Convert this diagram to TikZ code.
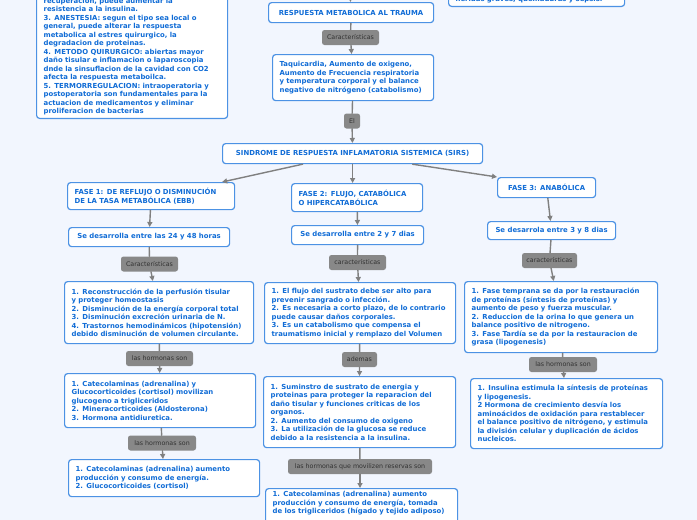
\documentclass[tikz,border=0pt]{standalone}
\usepackage{fontspec}
\setmainfont{DejaVu Sans}
\usetikzlibrary{arrows.meta}
\definecolor{bgblue}{RGB}{242,246,254}
\definecolor{boxline}{RGB}{76,146,228}
\definecolor{boxtext}{RGB}{16,108,214}
\definecolor{tagfill}{RGB}{136,136,136}
\definecolor{tagtext}{RGB}{50,50,50}
\definecolor{linkgray}{RGB}{128,128,128}
\begin{document}
\begin{tikzpicture}[x=1pt,y=-1pt,line join=round,line cap=round,
  card/.style={draw=boxline,fill=white,line width=1.2pt,rounded corners=3pt,text=boxtext,
    font=\fontsize{6.9}{8.5}\selectfont\bfseries,align=left,inner xsep=7pt,inner ysep=3pt},
  tag/.style={fill=tagfill,rounded corners=2.5pt,text=tagtext,
    font=\fontsize{6.3}{7}\selectfont,inner sep=0pt,minimum height=15pt},
  link/.style={draw=linkgray,line width=1.4pt},
  arr/.style={link,-{Triangle[length=5pt,width=5pt]}}]
	\useasboundingbox (0,0) rectangle (697,520);
	\fill[bgblue] (0,0) rectangle (697,520);
	\begin{scope}
		\clip (0,0) rectangle (697,520);
		
		% cut boxes at the top
		\node[card,text width=177pt,anchor=south west] (anest) at (36,119) {recuperación, puede aumentar la\\
			resistencia a la insulina.\\
			3. ANESTESIA: segun el tipo sea local o\\
			general, puede alterar la respuesta\\
			metabolica al estres quirurgico, la\\
			degradacion de proteinas.\\
			4. METODO QUIRURGICO: abiertas mayor\\
			daño tisular e inflamacion o laparoscopia\\
			dnde la sinsuflacion de la cavidad con CO2\\
			afecta la respuesta metaboilca.\\
			5. TERMORREGULACION: intraoperatoria y\\
			postoperatoria son fundamentales para la\\
			actuacion de medicamentos y eliminar\\
			proliferacion de bacterias};
		\node[card,text width=162pt,anchor=south west] (sepsis) at (448,7) {heridas graves, quemaduras y sepsis.};
		
		% main column
		\coordinate (feed) at (350,-8);
		\node[card,minimum width=165pt,minimum height=20pt,anchor=north west] (resp) at (268,2) {RESPUESTA METABOLICA AL TRAUMA};
		\node[tag,minimum width=57pt] (car0) at (350.5,37.5) {Características};
		\node[card,text width=147pt,minimum height=46pt,anchor=north west] (taq) at (272,54) {Taquicardia, Aumento de oxigeno,\\
			Aumento de Frecuencia respiratoria\\
			y temperatura corporal y el balance\\
			negativo de nitrógeno (catabolismo)};
		\node[tag,minimum width=16pt] (el) at (352,121) {El};
		\node[card,minimum width=260pt,minimum height=20pt,anchor=north west] (sirs) at (222,143) {SINDROME DE RESPUESTA INFLAMATORIA SISTEMICA (SIRS)};
		
		% fases
		\node[card,text width=153pt,minimum height=27pt,anchor=north west] (fase1) at (67,182) {FASE 1: DE REFLUJO O DISMINUCIÓN\\DE LA TASA METABÓLICA (EBB)};
		\node[card,text width=117pt,minimum height=28pt,anchor=north west] (fase2) at (291,183) {FASE 2: FLUJO, CATABÓLICA\\O HIPERCATABÓLICA};
		\node[card,minimum width=98pt,minimum height=20pt,anchor=north west] (fase3) at (497,177) {FASE 3: ANABÓLICA};
		
		\node[card,minimum width=161pt,minimum height=19pt,anchor=north west] (dur1) at (68,227) {Se desarrolla entre las 24 y 48 horas};
		\node[card,minimum width=132pt,minimum height=19pt,anchor=north west] (dur2) at (291,225) {Se desarrolla entre 2 y 7 dias};
		\node[card,minimum width=128pt,minimum height=18pt,anchor=north west] (dur3) at (487,221) {Se desarrola entre 3 y 8 dias};
		
		\node[tag,minimum width=57pt] (car1) at (149.5,264) {Características};
		\node[tag,minimum width=57pt] (car2) at (357.5,262.5) {características};
		\node[tag,minimum width=55pt] (car3) at (549.5,260.5) {características};
		
		\node[card,text width=175pt,minimum height=62pt,anchor=north west] (list1) at (64,281) {1. Reconstrucción de la perfusión tisular\\
			y proteger homeostasis\\
			2. Disminución de la energía corporal total\\
			3. Disminución excreción urinaria de N.\\
			4. Trastornos hemodinámicos (hipotensión)\\
			debido disminución de volumen circulante.};
		\node[card,text width=177pt,minimum height=61pt,anchor=north west] (list2) at (264,282) {1. El flujo del sustrato debe ser alto para\\
			prevenir sangrado o infección.\\
			2. Es necesaria a corto plazo, de lo contrario\\
			puede causar daños corporales.\\
			3. Es un catabolismo que compensa el\\
			traumatismo inicial y remplazo del Volumen};
		\node[card,text width=179pt,minimum height=71pt,anchor=north west] (list3) at (464,281) {1. Fase temprana se da por la restauración\\
			de proteínas (síntesis de proteínas) y\\
			aumento de peso y fuerza muscular.\\
			2. Reduccion de la orina lo que genera un\\
			balance positivo de nitrogeno.\\
			3. Fase Tardía se da por la restauracion de\\
			grasa (lipogenesis)};
		
		\node[tag,minimum width=67pt] (horm1) at (159.5,358.5) {las hormonas son};
		\node[tag,minimum width=35pt] (ademas) at (359.5,359.5) {ademas};
		\node[tag,minimum width=68pt] (horm3) at (563,364.5) {las hormonas son};
		
		\node[card,text width=177pt,minimum height=54pt,anchor=north west] (mov1) at (64,373) {1. Catecolaminas (adrenalina) y\\
			Glucocorticoides (cortisol) movilizan\\
			glucogeno a trigliceridos\\
			2. Mineracorticoides (Aldosterona)\\
			3. Hormona antidiuretica.};
		\node[card,text width=178pt,minimum height=71pt,anchor=north west] (mov2) at (263,376) {1. Suminstro de sustrato de energia y\\
			proteinas para proteger la reparacion del\\
			daño tisular y funciones criticas de los\\
			organos.\\
			2. Aumento del consumo de oxigeno\\
			3. La utilización de la glucosa se reduce\\
			debido a la resistencia a la insulina.};
		\node[card,text width=178pt,minimum height=70pt,anchor=north west] (mov3) at (470,378) {1. Insulina estimula la síntesis de proteínas\\
			y lipogenesis.\\
			2 Hormona de crecimiento desvía los\\
			aminoácidos de oxidación para restablecer\\
			el balance positivo de nitrógeno, y estimula\\
			la división celular y duplicación de ácidos\\
			nucleicos.};
		
		\node[tag,minimum width=68pt] (horm1b) at (162,443) {las hormonas son};
		\node[tag,minimum width=144pt] (reservas) at (360,466.5) {las hormonas que movilizen reservas son};
		
		\node[card,text width=177pt,minimum height=37pt,anchor=north west] (ener1) at (68,459) {1. Catecolaminas (adrenalina) aumento\\
			producción y consumo de energía.\\
			2. Glucocorticoides (cortisol)};
		\node[card,text width=178pt,text depth=45pt,anchor=north west] (ener2) at (265,488) {1. Catecolaminas (adrenalina) aumento\\
			producción y consumo de energía, tomada\\
			de los trigliceridos (hígado y tejido adiposo)};
		
		% connectors
		\draw[arr] (feed) -- (resp);
		\draw[link] (resp) -- (car0);
		\draw[arr] (car0) -- (taq);
		\draw[link] (taq) -- (el);
		\draw[arr] (el) -- (sirs);
		\draw[arr] ([xshift=-50pt]sirs.south) -- ([xshift=71pt]fase1.north);
		\draw[arr] (sirs.south) -- (sirs.south |- fase2.north);
		\draw[arr] ([xshift=60pt]sirs.south) -- (fase3.north west);
		\draw[arr] (fase1) -- (dur1);
		\draw[arr] (fase2) -- (dur2);
		\draw[arr] (fase3) -- (dur3);
		\draw[link] (dur1) -- (car1);
		\draw[link] (dur2) -- (car2);
		\draw[link] (dur3) -- (car3);
		\draw[arr] (car1) -- (list1);
		\draw[arr] (car2) -- (list2);
		\draw[arr] (car3) -- (list3);
		\draw[link] (list1) -- (horm1);
		\draw[link] (list2) -- (ademas);
		\draw[link] (list3) -- (horm3);
		\draw[arr] (horm1) -- (mov1);
		\draw[arr] (ademas) -- (mov2);
		\draw[arr] (horm3) -- (mov3);
		\draw[link] (mov1) -- (horm1b);
		\draw[link] (mov2) -- (reservas);
		\draw[arr] (horm1b) -- (ener1);
		\draw[arr] (reservas) -- (ener2.north -| reservas);
	\end{scope}
\end{tikzpicture}
\end{document}
